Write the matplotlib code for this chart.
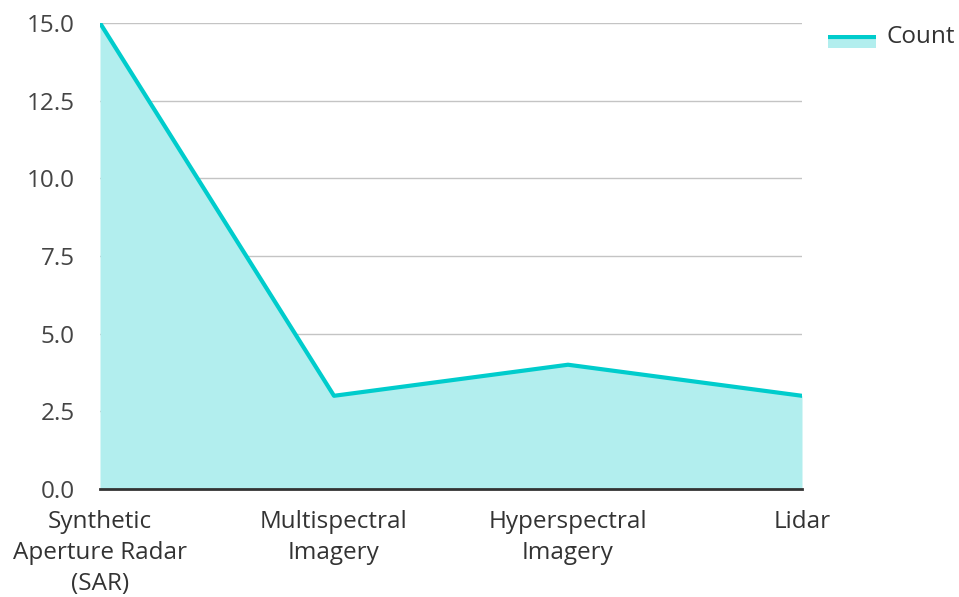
import matplotlib.pyplot as plt
import numpy as np

categories = ['Synthetic\nAperture Radar\n(SAR)', 'Multispectral\nImagery',
              'Hyperspectral\nImagery', 'Lidar']
counts = [15, 3, 4, 3]
y_ticks = [0.0, 2.5, 5.0, 7.5, 10.0, 12.5, 15.0]

plt.rcParams['font.family'] = ['Open Sans', 'DejaVu Sans']

fig = plt.figure(figsize=(9.59, 5.97), dpi=100)
ax = fig.add_axes([100 / 959, 1 - 489 / 597, 702 / 959, 466 / 597])

x = np.arange(len(categories))
ax.fill_between(x, counts, 0, color='#b2eeee', lw=0, zorder=2)
ax.plot(x, counts, color='#00cccc', lw=3, zorder=3, label='Count')

ax.set_xlim(0, len(categories) - 1)
ax.set_ylim(0, 15)
ax.set_yticks(y_ticks)
ax.set_yticklabels([f'{v:.1f}' for v in y_ticks])
ax.set_xticks(x)
ax.set_xticklabels(categories, linespacing=1.38)

ax.grid(axis='y', color='#c4c4c4', lw=1, zorder=1)
for s in ['top', 'right', 'left']:
    ax.spines[s].set_visible(False)
ax.spines['bottom'].set_color('#333333')
ax.spines['bottom'].set_linewidth(2)
ax.spines['bottom'].set_zorder(4)
ax.tick_params(axis='y', length=0, labelsize=17.5, labelcolor='#444444', pad=18)
ax.tick_params(axis='x', length=0, labelsize=17.5, labelcolor='#333333', pad=15)

# legend: line above a filled patch
lax = fig.add_axes([828 / 959, 1 - 48 / 597, 48 / 959, 13 / 597])
lax.axis('off')
lax.set_xlim(0, 1)
lax.set_ylim(0, 1)
lax.fill_between([0, 1], [0, 0], [0.85, 0.85], color='#b2eeee', lw=0)
lax.plot([0, 1], [0.85, 0.85], color='#00cccc', lw=3, solid_capstyle='butt')
fig.text(887 / 959, 1 - 37 / 597, 'Count', fontsize=17.5, color='#333333',
         va='center', ha='left')

fig.savefig('out.png', dpi=100)
